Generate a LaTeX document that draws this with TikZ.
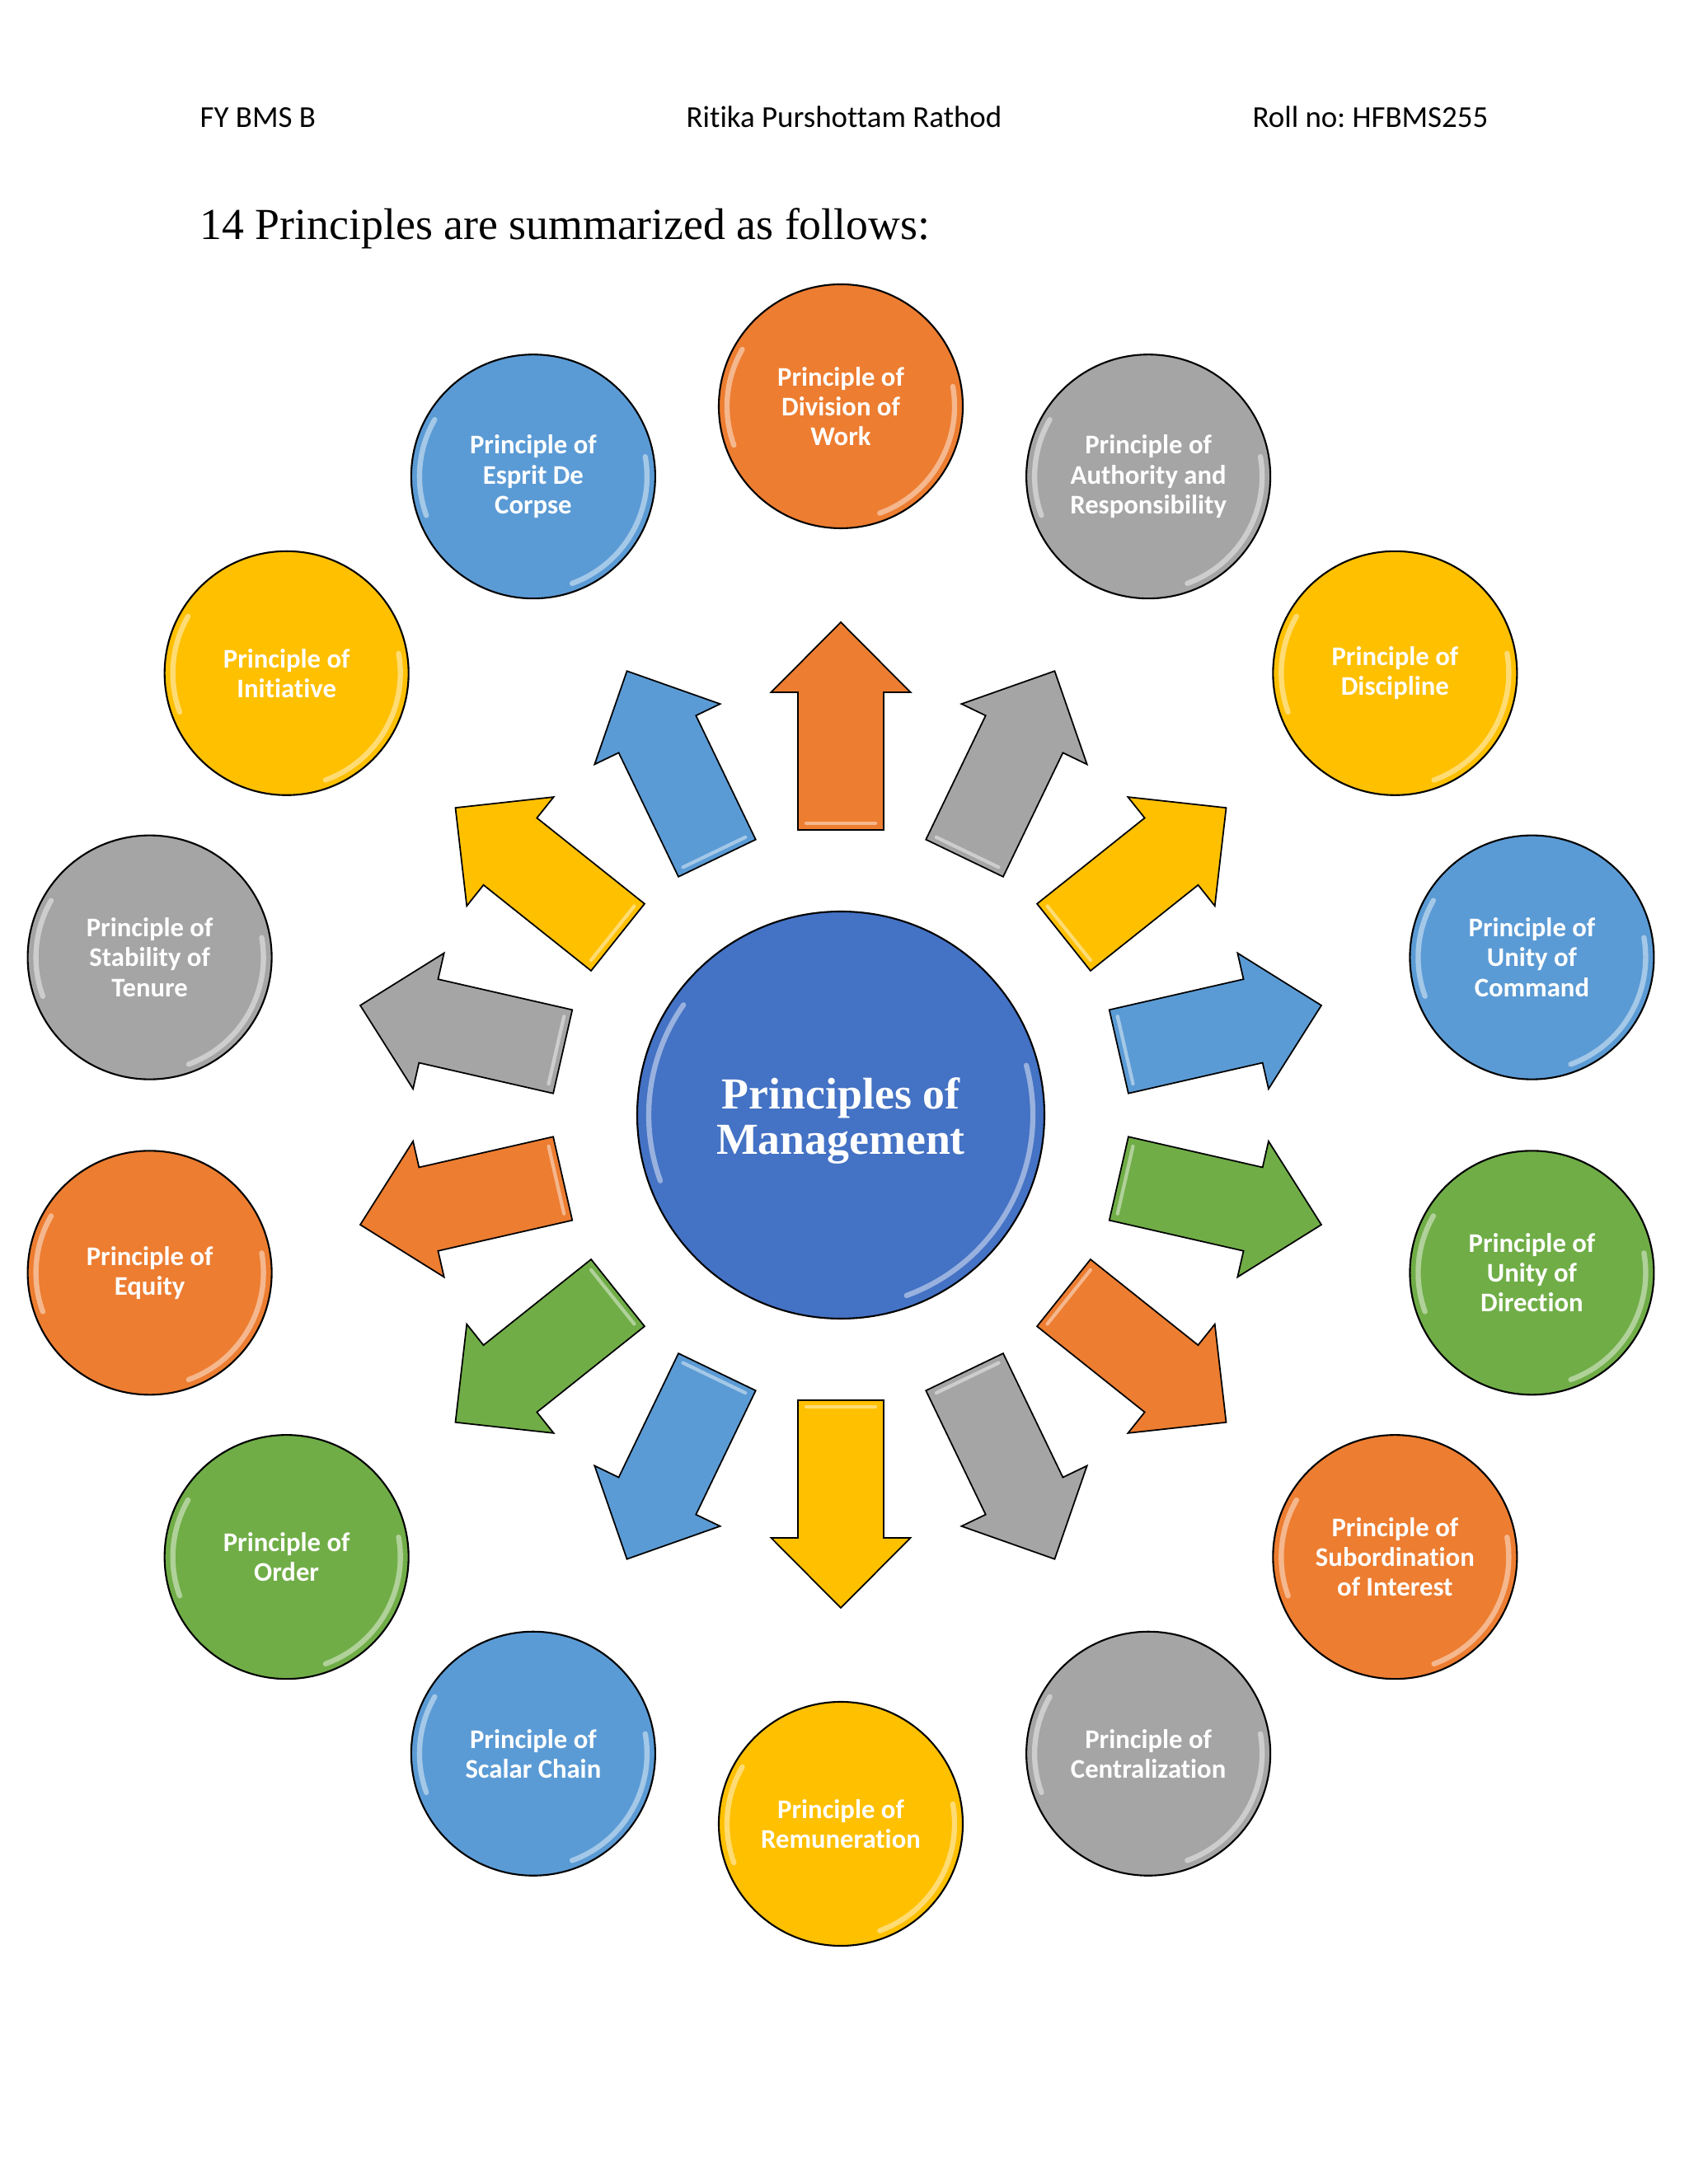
\documentclass[tikz,border=0pt]{standalone}
\usepackage{fontspec}
\setmainfont{Liberation Serif}
\newfontfamily\calibri[Ligatures=NoCommon]{Carlito}
\usepackage{tikz}
\usetikzlibrary{positioning,calc}
\usepackage{xcolor}
\definecolor{mgorange}{RGB}{237,125,49}
\definecolor{mggray}{RGB}{165,165,165}
\definecolor{mgyellow}{RGB}{255,192,0}
\definecolor{mgblue}{RGB}{91,155,213}
\definecolor{mggreen}{RGB}{112,173,71}
\definecolor{pomblue}{RGB}{68,114,196}
\frenchspacing

\begin{document}
\begin{tikzpicture}[
  principle/.style={circle,draw=black,line width=0.6pt,minimum size=2.96cm,inner sep=0pt,
    text=white,align=center,font=\calibri\bfseries\fontsize{9.3}{10.3}\selectfont},
  outarrow/.style={draw=black,line width=0.5pt,line join=miter},
  gloss/.style={white,opacity=0.45,line width=1.8pt,line cap=round}
]
\useasboundingbox (0,0) rectangle (20.48,26.5);

% header line and title
\node[anchor=base west,inner sep=0pt,font=\calibri\fontsize{10.5}{12}\selectfont] (class) at (2.42,24.95) {FY BMS B};
\node[anchor=base,inner sep=0pt,font=\calibri\fontsize{10.5}{12}\selectfont] (student) at (10.24,24.95) {Ritika Purshottam Rathod};
\node[anchor=base east,inner sep=0pt,font=\calibri\fontsize{10.5}{12}\selectfont] (roll) at (18.06,24.95) {Roll no: HFBMS255};
\node[anchor=base west,inner sep=0pt,font=\fontsize{15.3}{18}\selectfont] (title) at (2.42,23.59) {14 Principles are summarized as follows:};

% centre
\node[circle,draw=black,line width=0.6pt,fill=pomblue,minimum size=4.94cm,inner sep=0pt,
  label={[text=white,align=center,font=\bfseries\fontsize{15.3}{15.6}\selectfont,yshift=-0.07cm]center:Principles of\\Management}]
  (pom) at (10.20,12.97) {};
\draw[gloss] ($(pom)+(-70:2.33)$) arc (-70:15:2.33);
\draw[gloss] ($(pom)+(145:2.33)$) arc (145:200:2.33);

% the fourteen principles, clockwise from the top
\foreach \lbl/\col [count=\k from 0] in {
  {Principle of\\Division of\\Work}/mgorange,
  {Principle of\\Authority and\\Responsibility}/mggray,
  {Principle of\\Discipline}/mgyellow,
  {Principle of\\Unity of\\Command}/mgblue,
  {Principle of\\Unity of\\Direction}/mggreen,
  {Principle of\\Subordination\\of Interest}/mgorange,
  {Principle of\\Centralization}/mggray,
  {Principle of\\Remuneration}/mgyellow,
  {Principle of\\Scalar Chain}/mgblue,
  {Principle of\\Order}/mggreen,
  {Principle of\\Equity}/mgorange,
  {Principle of\\Stability of\\Tenure}/mggray,
  {Principle of\\Initiative}/mgyellow,
  {Principle of\\Esprit De\\Corpse}/mgblue}
{
  \pgfmathsetmacro{\ang}{90-\k*360/14}
  \path (pom) ++(\ang:8.6) node[principle,fill=\col] (p\k) {\lbl};
  \draw[gloss] ($(p\k)+(-70:1.38)$) arc (-70:10:1.38);
  \draw[gloss] ($(p\k)+(150:1.38)$) arc (150:200:1.38);
  \begin{scope}[shift={(pom)},rotate=\ang-90]
    \draw[outarrow,fill=\col] (-0.52,3.46) -- (0.52,3.46) -- (0.52,5.13) -- (0.845,5.13)
      -- (0,5.98) -- (-0.845,5.13) -- (-0.52,5.13) -- cycle;
    \draw[gloss,line width=1.2pt] (-0.42,3.54) -- (0.42,3.54);
  \end{scope}
}
\end{tikzpicture}
\end{document}
